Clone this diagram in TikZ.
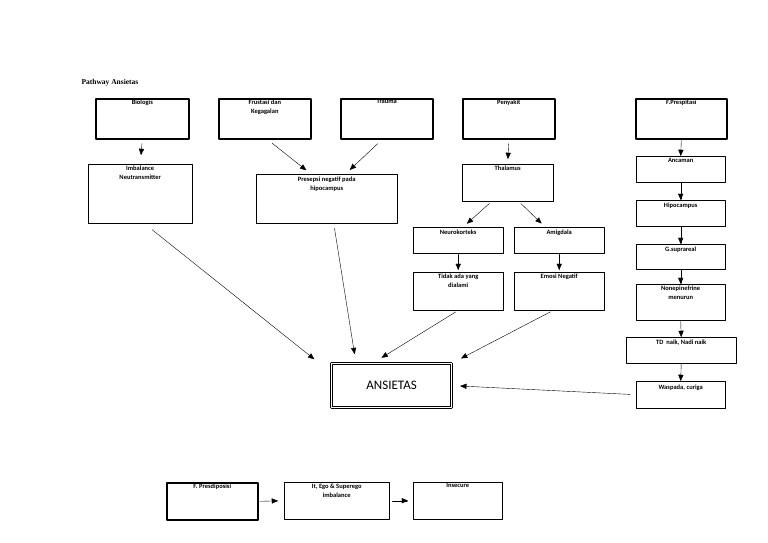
\documentclass[tikz,border=0pt]{standalone}
\usepackage{fontspec}
\setmainfont{Carlito}
\newfontfamily\titlefont{Liberation Serif}
\usetikzlibrary{arrows}

\begin{document}
\begin{tikzpicture}[x=1pt, y=-1pt, line cap = round, line join = round, >=triangle 45]
\tikzstyle{box}=[draw=black, rectangle, anchor=north west, inner sep=0pt, font=\fontsize{6.5}{8}\selectfont]
\tikzstyle{head}=[box, line width=1.6pt]
\tikzstyle{lbl}=[align=center, font=\fontsize{6.5}{9}\selectfont\bfseries, inner sep=1.5pt]
\tikzstyle{link}=[thin, ->, color=black]
\useasboundingbox (0,0) rectangle (768,543);
\node[anchor=west, font=\titlefont\fontsize{7.5}{9}\selectfont\bfseries] (title) at (78,83) {Pathway Ansietas};
% top row
\node[head, minimum width=93, minimum height=40, label={[lbl,anchor=north]north:Biologis}] (bio) at (95,98) {};
\node[head, minimum width=92, minimum height=40, label={[lbl,anchor=north]north:Frustasi dan\\Kegagalan}] (fru) at (218,98) {};
\node[head, minimum width=92, minimum height=40, label={[lbl,anchor=north]north:Trauma}] (tra) at (340,98) {};
\node[head, minimum width=92, minimum height=40, label={[lbl,anchor=north]north:Penyakit}] (pen) at (462,98) {};
\node[head, minimum width=91, minimum height=40, label={[lbl,anchor=north]north:F.Prespitasi}] (pre) at (635,98) {};
% middle
\node[box, minimum width=104, minimum height=59, label={[lbl,anchor=north]north:Imbalance\\Neutransmitter}] (imb) at (88,164) {};
\node[box, minimum width=141, minimum height=49, label={[lbl,anchor=north,yshift=-1pt]north:Presepsi negatif pada\\hipocampus}] (psp) at (256,174) {};
\node[box, minimum width=91, minimum height=37, label={[lbl,anchor=north]north:Thalamus}] (tha) at (462,164) {};
\node[box, minimum width=90, minimum height=26, label={[lbl,anchor=north,yshift=-1pt]north:Neurokorteks}] (neu) at (413,227) {};
\node[box, minimum width=90, minimum height=26, label={[lbl,anchor=north,yshift=-1pt]north:Amigdala}] (ami) at (514,227) {};
\node[box, minimum width=90, minimum height=38, label={[lbl,anchor=north]north:Tidak ada yang\\dialami}] (tid) at (413,272) {};
\node[box, minimum width=90, minimum height=38, label={[lbl,anchor=north]north:Emosi Negatif}] (emo) at (514,272) {};
% right column
\node[box, minimum width=89, minimum height=26, label={[lbl,anchor=north,yshift=-1pt]north:Ancaman}] (anc) at (636,156) {};
\node[box, minimum width=89, minimum height=26, label={[lbl,anchor=north,yshift=-1pt]north:Hipocampus}] (hip) at (636,200) {};
\node[box, minimum width=89, minimum height=25, label={[lbl,anchor=north,yshift=-1pt]north:G.suprareal}] (sup) at (636,244) {};
\node[box, minimum width=89, minimum height=36, label={[lbl,anchor=north]north:Nonepinefrine\\menurun}] (non) at (636,284) {};
\node[box, minimum width=110, minimum height=26, label={[lbl,anchor=north,yshift=-1pt]north:TD\ \ naik, Nadi naik}] (td) at (626,337) {};
\node[box, minimum width=89, minimum height=27, label={[lbl,anchor=north,yshift=-2pt]north:Waspada, curiga}] (was) at (636,381) {};
% center
\node[draw=black, line width=1.2pt, double=white, double distance=1pt, minimum width=120, minimum height=44, anchor=north west, inner sep=0pt, font=\fontsize{13}{15}\selectfont] (ans) at (331,363) {ANSIETAS};
% bottom row
\node[head, minimum width=91, minimum height=37, label={[lbl,anchor=north]north:F. Presdiposisi}] (fpd) at (166,482) {};
\node[box, minimum width=105, minimum height=37, label={[lbl,anchor=north]north:It, Ego \& Superego\\imbalance}] (ego) at (284,482) {};
\node[box, minimum width=89, minimum height=37, label={[lbl,anchor=north]north:Insecure}] (ins) at (413,482) {};

\draw[link, shorten <=4pt, shorten >=9pt] (bio.south) -- (imb.north);
\draw[link, shorten <=6pt, shorten >=6pt] ([xshift=-44pt]fru.south east) -- ([xshift=55pt]psp.north west);
\draw[link, shorten <=6pt, shorten >=6pt] ([xshift=42pt]tra.south west) -- ([xshift=-52pt]psp.north east);
\draw[link, shorten <=10pt, shorten >=6pt] ([xshift=4pt]imb.south) -- ([xshift=-12pt]ans.north west);
\draw[link, shorten <=5pt, shorten >=9pt] ([xshift=7pt]psp.south) -- ([xshift=25pt]ans.north west);
\draw[link, shorten <=4pt, shorten >=5pt] (pen.south) -- (tha.north);
\draw[link, shorten <=3pt, shorten >=5pt] ([xshift=-16pt]tha.south) -- ([xshift=5pt]neu.north);
\draw[link, shorten <=3pt, shorten >=5pt] ([xshift=11pt]tha.south) -- ([xshift=-14pt]ami.north);
\draw[link, shorten <=1pt, shorten >=2pt] (neu.south) -- (tid.north);
\draw[link, shorten <=1pt, shorten >=2pt] (ami.south) -- (emo.north);
\draw[link, shorten <=3pt, shorten >=10pt] (tid.south) -- ([xshift=42pt]ans.north west);
\draw[link, shorten <=3pt, shorten >=10pt] ([xshift=-6pt]emo.south) -- (ans.north east);
\draw[link] (pre.south) -- (anc.north);
\draw[link] (anc.south) -- (hip.north);
\draw[link] (hip.south) -- (sup.north);
\draw[link] (sup.south) -- (non.north);
\draw[link] (non.south) -- (td.north);
\draw[link] (td.south) -- (was.north);
\draw[link, shorten <=6pt, shorten >=8pt] (was.west) -- (ans.east);
\draw[link, shorten <=1pt, shorten >=6pt] (fpd.east) -- (ego.west);
\draw[link, shorten <=3pt, shorten >=5pt] (ego.east) -- (ins.west);
\end{tikzpicture}
\end{document}
